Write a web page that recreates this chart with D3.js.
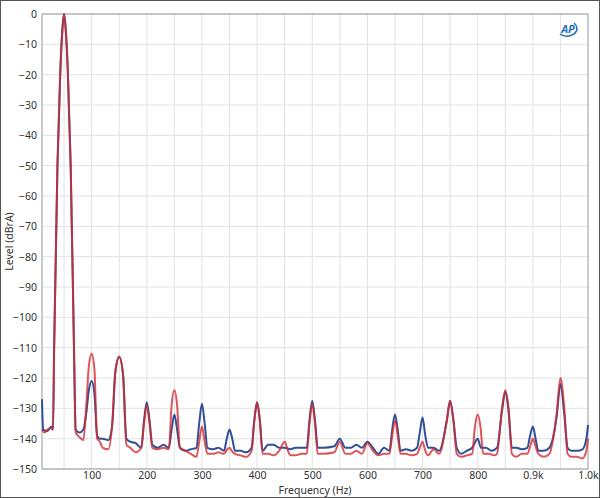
<!DOCTYPE html>
<html><head><meta charset="utf-8">
<script src="https://cdn.jsdelivr.net/npm/d3@7"></script>
<style>body{margin:0;background:#fff}svg{display:block;font-family:"Noto Sans",sans-serif}</style>
</head><body><svg id="c" width="600" height="498"></svg>
<script>
const xTicks=[100,200,300,400,500,600,700,800,900,1000];
const xTickLabels=["100","200","300","400","500","600","700","800","0.9k","1.0k"];
const yTicks=[0,-10,-20,-30,-40,-50,-60,-70,-80,-90,-100,-110,-120,-130,-140,-150];
const blue=[[10,-127],[12,-137],[20,-137.5],[27,-136],[30,-137],[32,-110],[38,-50],[43,-20],[47,-5],[50,0],[53,-5],[57,-20],[62,-50],[68,-110],[71,-137],[78,-138],[85,-137],[90,-132],[95,-124],[100,-121],[105,-125],[110,-139],[115,-140],[120,-140],[130,-140.5],[137,-136],[143,-118],[150,-113],[157,-119],[163,-140],[170,-141],[180,-141.5],[190,-143],[195,-134],[200,-128],[205,-134],[210,-142],[220,-143],[230,-142],[240,-143],[245,-137],[250,-132],[255,-137],[260,-143],[270,-144],[280,-143.5],[290,-143],[295,-135],[300,-128.5],[305,-135],[310,-143],[320,-143.5],[330,-143],[340,-144],[345,-140],[350,-137],[355,-140],[360,-144],[370,-144],[380,-144.5],[390,-143],[395,-134],[400,-128],[405,-134],[410,-144],[420,-142],[430,-142],[440,-143],[450,-143],[460,-143.5],[470,-143],[480,-143],[490,-143],[495,-134],[500,-127.5],[505,-134],[510,-143],[520,-143],[540,-142.5],[550,-140],[560,-143],[570,-143],[580,-142],[590,-143],[600,-141],[610,-143],[620,-145],[630,-143],[640,-144],[645,-137],[650,-132],[655,-137],[660,-144],[670,-143.5],[680,-144],[690,-143],[695,-138],[700,-133],[705,-139],[710,-143],[720,-143],[730,-144],[744,-134],[750,-127.5],[756,-134],[762,-143],[770,-145],[780,-144],[790,-143],[800,-140],[806,-143],[815,-143],[825,-144],[835,-143],[844,-131],[850,-124.5],[856,-131],[862,-143],[870,-143],[880,-143.5],[890,-143],[895,-139],[900,-136],[905,-140],[910,-144],[920,-144],[930,-143],[943,-133],[950,-122],[957,-132],[963,-143],[970,-144],[980,-144],[990,-143.5],[997,-140],[1000,-135.5]];
const red=[[10,-137],[15,-138],[20,-137],[27,-136.5],[30,-137],[32,-110],[38,-50],[43,-20],[47,-5],[50,0],[53,-5],[57,-20],[62,-50],[68,-110],[71,-138],[78,-139.5],[85,-140.5],[90,-130],[95,-116],[100,-112],[105,-117],[110,-140],[115,-141],[120,-143],[130,-143.5],[137,-136],[143,-118],[150,-113],[157,-119],[163,-142],[170,-143],[180,-144.5],[190,-143],[195,-135],[200,-129],[205,-135],[210,-143],[220,-143.5],[230,-143],[240,-143.5],[245,-129],[250,-124],[255,-129],[260,-143],[270,-144],[280,-145],[290,-146],[295,-141],[300,-136],[305,-141],[310,-145],[320,-145],[330,-144.5],[340,-145],[346,-143.5],[350,-143],[354,-144],[360,-145],[370,-145.5],[380,-146],[390,-144],[395,-134],[400,-128],[405,-134],[410,-145],[420,-145],[430,-145.5],[440,-144],[450,-141],[456,-144],[460,-145.5],[470,-145.5],[480,-145],[490,-145],[495,-135],[500,-128.5],[505,-135],[510,-145],[520,-145],[540,-144.5],[550,-141],[560,-145],[570,-145],[580,-144],[590,-145],[600,-141.5],[610,-144],[620,-145.5],[630,-145],[640,-145],[645,-139],[650,-134],[655,-139],[660,-145],[670,-145],[680,-145.5],[690,-145],[695,-143],[700,-141],[705,-144],[710,-145.5],[720,-143.5],[730,-145],[744,-134],[750,-127.5],[756,-134],[762,-145],[770,-146],[780,-145.5],[790,-145],[795,-136],[800,-132],[805,-136],[810,-145],[820,-145],[830,-145.5],[835,-145],[844,-130],[850,-124],[856,-130],[862,-145],[870,-146],[880,-145],[890,-145],[896,-142],[900,-140],[904,-142],[910,-145],[920,-146],[930,-145],[943,-132],[950,-120],[957,-130],[963,-145],[970,-146],[980,-146],[990,-146.5],[997,-144],[1000,-140]];

const svg=d3.select("#c");
const L=42,T=14,R=588,B=469;
const x=d3.scaleLinear().domain([10,1000]).range([L,R]);
const y=d3.scaleLinear().domain([-150,0]).range([B,T]);
svg.append("rect").attr("x",0.5).attr("y",0.5).attr("width",599).attr("height",497).attr("fill","#fff").attr("stroke","#555");
const g=svg.append("g");
d3.range(50,1000,50).forEach(f=>g.append("line").attr("x1",x(f)).attr("x2",x(f)).attr("y1",T).attr("y2",B).attr("stroke","#e2e2e2"));
yTicks.forEach(v=>g.append("line").attr("x1",L).attr("x2",R).attr("y1",y(v)).attr("y2",y(v)).attr("stroke","#e2e2e2"));
svg.append("rect").attr("x",L).attr("y",T).attr("width",R-L).attr("height",B-T).attr("fill","none").attr("stroke","#999");
const ya=svg.append("g").attr("transform",`translate(${L},0)`).call(d3.axisLeft(y).tickValues(yTicks).tickSize(0).tickPadding(5));
const xa=svg.append("g").attr("transform",`translate(0,${B})`).call(d3.axisBottom(x).tickValues(xTicks).tickFormat((d,i)=>xTickLabels[i]).tickSize(0).tickPadding(3));
[ya,xa].forEach(a=>{a.select(".domain").remove();a.selectAll("text").attr("fill","#333").style("font-size","10.5px").style("font-family","Noto Sans");});
const line=d3.line().x(d=>x(d[0])).y(d=>y(d[1])).curve(d3.curveMonotoneX);
svg.append("path").datum(blue).attr("d",line).attr("fill","none").attr("stroke","#2f4f98").attr("stroke-width",2);
svg.append("path").datum(red).attr("d",line).attr("fill","none").attr("stroke","#d42a30").attr("stroke-opacity",0.8).attr("stroke-width",2);
svg.append("text").attr("x",(L+R)/2).attr("y",494).attr("text-anchor","middle").attr("fill","#333").style("font-size","10.5px").text("Frequency (Hz)");
svg.append("text").attr("transform",`translate(13,${(T+B)/2}) rotate(-90)`).attr("text-anchor","middle").attr("fill","#333").style("font-size","10.5px").text("Level (dBrA)");
svg.append("text").attr("x",568).attr("y",33).attr("text-anchor","middle").attr("fill","#1f6fc0").style("font-size","11px").style("font-style","italic").style("font-weight","bold").text("AP");
svg.append("path").attr("d","M560,34 A9,7 0 1,0 574,23").attr("fill","none").attr("stroke","#1f6fc0").attr("stroke-width",1.5);
</script></body></html>
